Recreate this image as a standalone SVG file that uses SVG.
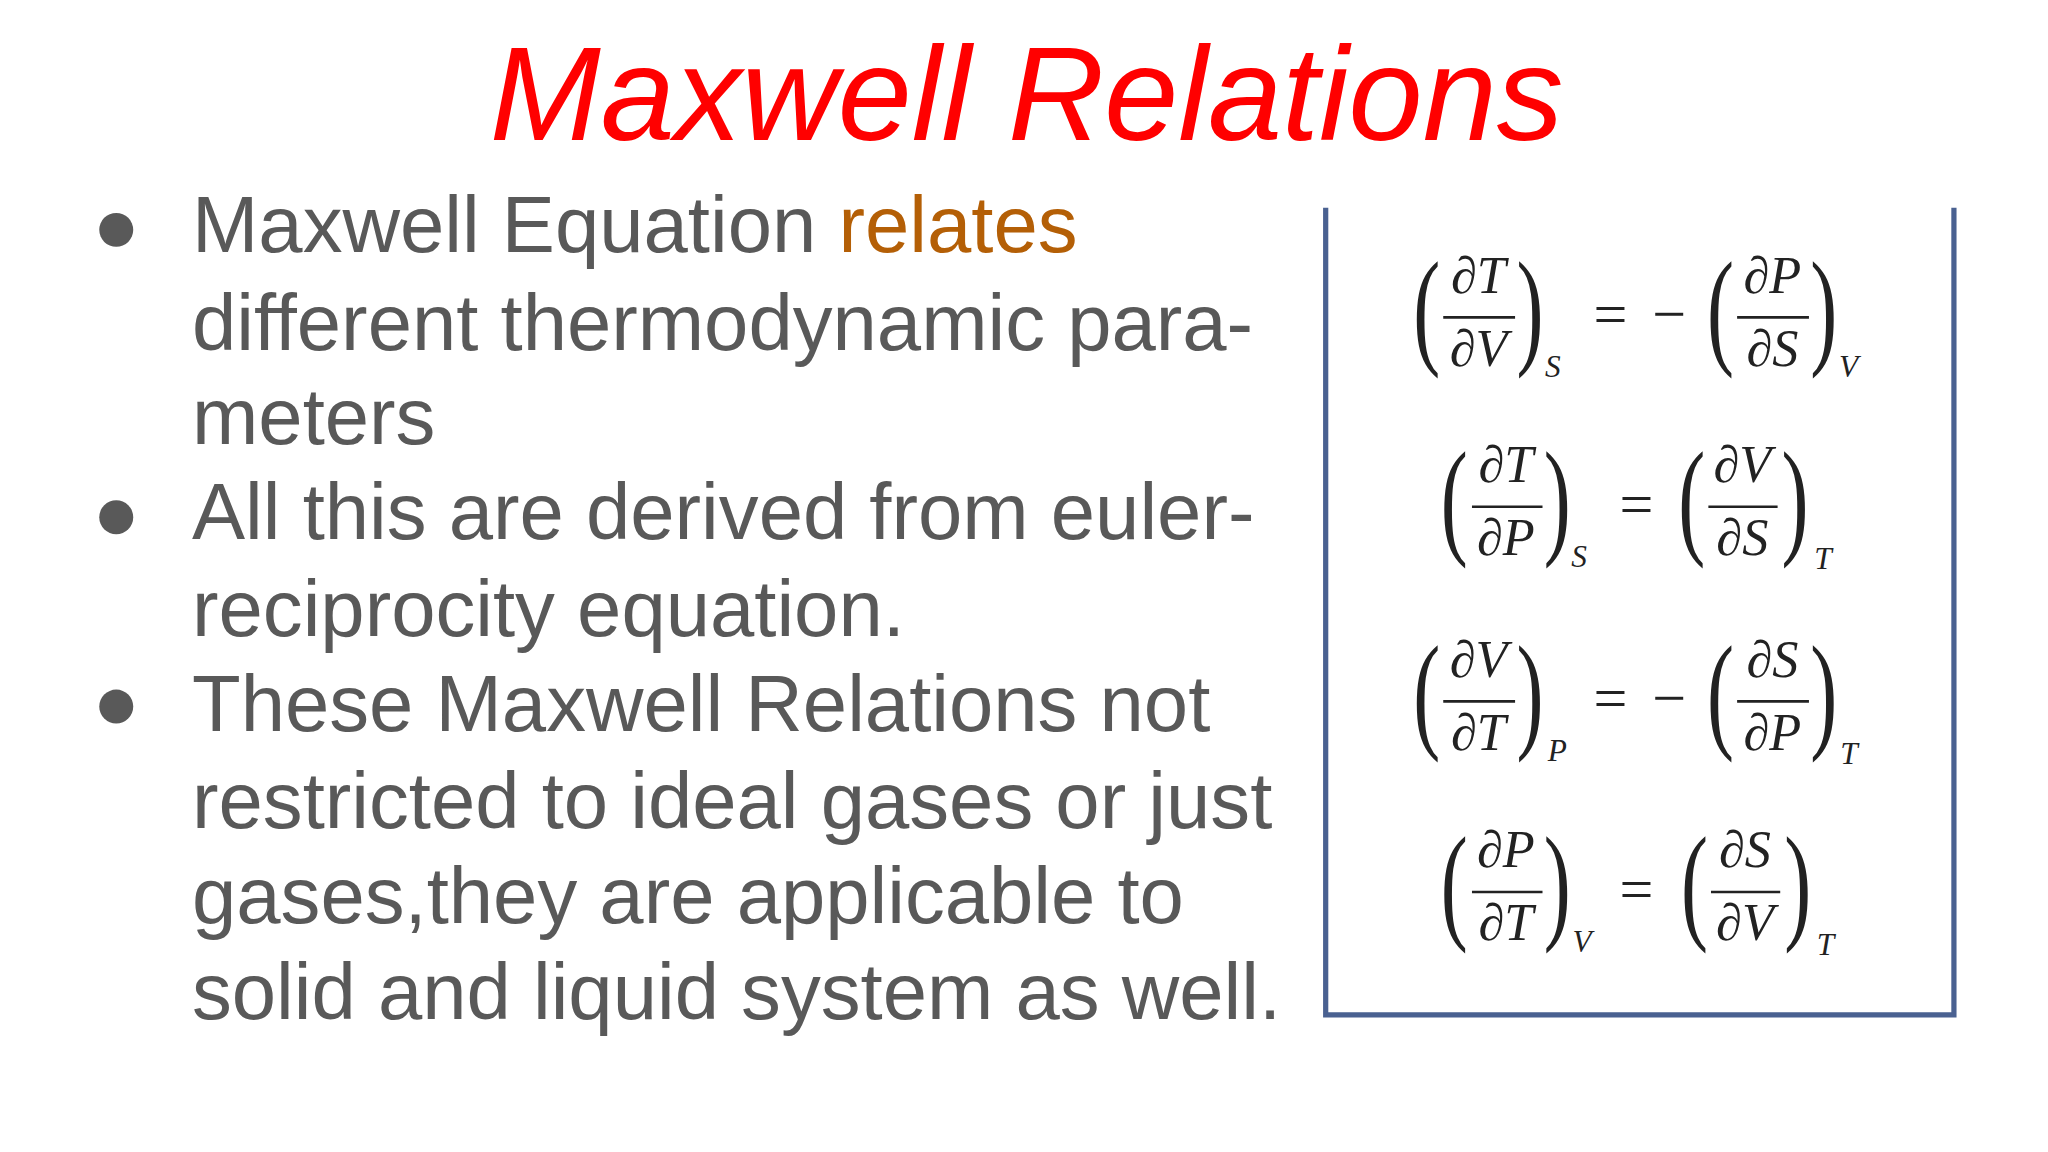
<svg xmlns="http://www.w3.org/2000/svg" width="2048" height="1152" viewBox="0 0 2048 1152">
<style>
.b{font-family:"Liberation Sans",Arial,sans-serif;font-size:61px;fill:#595959}
.m{font-family:"Liberation Serif","Times New Roman",serif;font-style:italic;font-size:40px;fill:#222}
.s{font-family:"Liberation Serif","Times New Roman",serif;font-style:italic;font-size:24px;fill:#222}
.p{font-family:"Liberation Serif","Times New Roman",serif;font-size:62px;fill:#222}
.o{font-family:"Liberation Serif","Times New Roman",serif;font-size:46px;fill:#222}
.bar{stroke:#222;stroke-width:2}
</style>
<rect width="2048" height="1152" fill="#fff"/>
<g transform="scale(1.3061)">
<g id="title"><text x="786" y="107" text-anchor="middle" font-family="Liberation Sans,Arial,sans-serif" font-style="italic" font-size="102" fill="#ff0000">Maxwell Relations</text></g>
<g id="bullets">
<circle cx="89" cy="176" r="13" fill="#595959"/>
<circle cx="89" cy="396" r="13" fill="#595959"/>
<circle cx="89" cy="541" r="13" fill="#595959"/>
<text class="b" x="147" y="193">Maxwell Equation <tspan fill="#b45f06">relates</tspan></text>
<text class="b" x="147" y="268">different thermodynamic para-</text>
<text class="b" x="147" y="340">meters</text>
<text class="b" x="147" y="413">All this are derived from euler-</text>
<text class="b" x="147" y="487">reciprocity equation.</text>
<text class="b" x="147" y="560">These Maxwell Relations not</text>
<text class="b" x="147" y="634">restricted to ideal gases or just</text>
<text class="b" x="147" y="707">gases,they are applicable to</text>
<text class="b" x="147" y="780">solid and liquid system as well.</text>
</g>
<g id="box"><path d="M1015 159 V777 H1496 V159" fill="none" stroke="#4a6191" stroke-width="4"/></g>
<g id="eq1" transform="translate(0,243)">
<text class="p" transform="translate(1082,26) scale(1,1.6)">(</text><text class="m" x="1132" y="-19" text-anchor="middle">∂T</text><line class="bar" x1="1105" y1="0" x2="1160" y2="0"/><text class="m" x="1132" y="37" text-anchor="middle">∂V</text><text class="p" transform="translate(1161,26) scale(1,1.6)">)</text><text class="s" x="1183" y="46">S</text>
<text class="o" x="1233" y="13" text-anchor="middle">=</text><text class="o" x="1278" y="13" text-anchor="middle">−</text>
<text class="p" transform="translate(1307,26) scale(1,1.6)">(</text><text class="m" x="1357" y="-19" text-anchor="middle">∂P</text><line class="bar" x1="1330" y1="0" x2="1385" y2="0"/><text class="m" x="1357" y="37" text-anchor="middle">∂S</text><text class="p" transform="translate(1386,26) scale(1,1.6)">)</text><text class="s" x="1408" y="46">V</text>
</g>
<g id="eq2" transform="translate(0,388)">
<text class="p" transform="translate(1103,26) scale(1,1.6)">(</text><text class="m" x="1153" y="-19" text-anchor="middle">∂T</text><line class="bar" x1="1127" y1="0" x2="1181" y2="0"/><text class="m" x="1153" y="37" text-anchor="middle">∂P</text><text class="p" transform="translate(1182,26) scale(1,1.6)">)</text><text class="s" x="1203" y="46">S</text>
<text class="o" x="1253" y="13" text-anchor="middle">=</text>
<text class="p" transform="translate(1285,26) scale(1,1.6)">(</text><text class="m" x="1334" y="-19" text-anchor="middle">∂V</text><line class="bar" x1="1308" y1="0" x2="1361" y2="0"/><text class="m" x="1334" y="37" text-anchor="middle">∂S</text><text class="p" transform="translate(1364,26) scale(1,1.6)">)</text><text class="s" x="1389" y="48">T</text>
</g>
<g id="eq3" transform="translate(0,537)">
<text class="p" transform="translate(1082,26) scale(1,1.6)">(</text><text class="m" x="1132" y="-19" text-anchor="middle">∂V</text><line class="bar" x1="1105" y1="0" x2="1160" y2="0"/><text class="m" x="1132" y="37" text-anchor="middle">∂T</text><text class="p" transform="translate(1161,26) scale(1,1.6)">)</text><text class="s" x="1185" y="46">P</text>
<text class="o" x="1233" y="13" text-anchor="middle">=</text><text class="o" x="1278" y="13" text-anchor="middle">−</text>
<text class="p" transform="translate(1307,26) scale(1,1.6)">(</text><text class="m" x="1357" y="-19" text-anchor="middle">∂S</text><line class="bar" x1="1330" y1="0" x2="1385" y2="0"/><text class="m" x="1357" y="37" text-anchor="middle">∂P</text><text class="p" transform="translate(1386,26) scale(1,1.6)">)</text><text class="s" x="1409" y="48">T</text>
</g>
<g id="eq4" transform="translate(0,683)">
<text class="p" transform="translate(1103,26) scale(1,1.6)">(</text><text class="m" x="1153" y="-19" text-anchor="middle">∂P</text><line class="bar" x1="1127" y1="0" x2="1181" y2="0"/><text class="m" x="1153" y="37" text-anchor="middle">∂T</text><text class="p" transform="translate(1182,26) scale(1,1.6)">)</text><text class="s" x="1204" y="46">V</text>
<text class="o" x="1253" y="13" text-anchor="middle">=</text>
<text class="p" transform="translate(1287,26) scale(1,1.6)">(</text><text class="m" x="1336" y="-19" text-anchor="middle">∂S</text><line class="bar" x1="1310" y1="0" x2="1363" y2="0"/><text class="m" x="1336" y="37" text-anchor="middle">∂V</text><text class="p" transform="translate(1366,26) scale(1,1.6)">)</text><text class="s" x="1391" y="48">T</text>
</g>
</g>
</svg>
